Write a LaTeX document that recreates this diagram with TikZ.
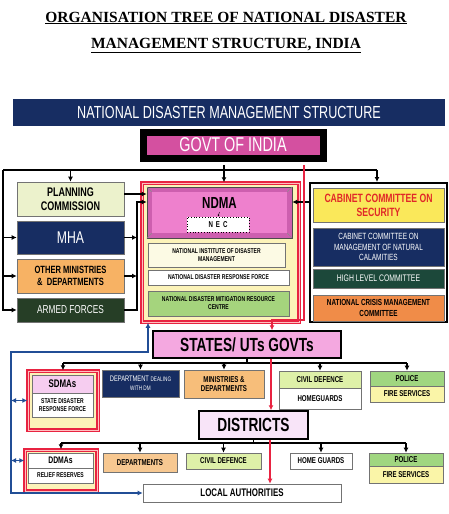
\documentclass[tikz,border=0pt]{standalone}
\usepackage{fontspec}
\setmainfont{Liberation Sans}[FakeStretch=0.72]
\newfontfamily\titlefont{Liberation Serif}
\usetikzlibrary{shapes,arrows.meta}
\newcommand\fsz[1]{\fontsize{#1pt}{\dimexpr #1pt*23/20\relax}\selectfont}

\definecolor{navyc}{RGB}{23,45,98}
\definecolor{govpink}{RGB}{212,80,160}
\definecolor{planc}{RGB}{236,242,204}
\definecolor{orangec}{RGB}{247,178,100}
\definecolor{armyg}{RGB}{38,62,38}
\definecolor{paley}{RGB}{252,243,185}
\definecolor{ndmadark}{RGB}{205,95,175}
\definecolor{ndmapink}{RGB}{238,128,205}
\definecolor{creamc}{RGB}{252,250,228}
\definecolor{mitig}{RGB}{165,212,125}
\definecolor{ccsyellow}{RGB}{250,232,90}
\definecolor{redtxt}{RGB}{225,40,40}
\definecolor{hlcgreen}{RGB}{28,72,58}
\definecolor{ncmcorange}{RGB}{240,140,72}
\definecolor{statepink}{RGB}{244,168,224}
\definecolor{sdmapink}{RGB}{246,205,240}
\definecolor{minorange}{RGB}{247,190,122}
\definecolor{cdgreen}{RGB}{222,240,168}
\definecolor{polgreen}{RGB}{160,214,128}
\definecolor{fireyel}{RGB}{250,245,168}
\definecolor{distpink}{RGB}{248,228,248}
\definecolor{deporange}{RGB}{247,200,145}
\definecolor{redl}{RGB}{232,35,65}
\definecolor{bluel}{RGB}{33,78,150}

\tikzset{%
    box/.style = {draw=black!55, rectangle, align=center, inner sep=1pt, line width=0.6pt},
    sz/.style 2 args = {minimum width=#1pt, minimum height=#2pt},
    grp/.style = {draw=redl, double=red!25, double distance=0.8pt, line width=1.5pt, fill=paley},
    link/.style = {line width=1.5pt},
    redlink/.style = {draw=redl, line width=1.3pt},
    bluelink/.style = {draw=bluel, line width=1.3pt},
}

\begin{document}
\begin{tikzpicture}[x=1pt, y=-1pt, >={Latex[length=5pt,width=5pt]}]
        \useasboundingbox (0,0) rectangle (449,514);
        \fill[white] (0,0) rectangle (449,514);

        % title
        \node[anchor=base, font=\titlefont\bfseries\fsz{15.5}] (title1) at (226,22)
            {\underline{ORGANISATION TREE OF NATIONAL DISASTER}};
        \node[anchor=base, font=\titlefont\bfseries\fsz{15.5}] (title2) at (226,48)
            {\underline{MANAGEMENT STRUCTURE, INDIA}};

        \node[fill=navyc, sz={432}{27}, text=white, font=\fsz{17.5}] (nds) at (229,112.5)
            {NATIONAL DISASTER MANAGEMENT STRUCTURE};
        \node[fill=govpink, draw=black, line width=7pt, sz={180}{26}, text=white, font=\fsz{20}] (govt) at (233,145)
            {GOVT OF INDIA};

        % left column
        \node[box, fill=planc, sz={107}{34}, font=\bfseries\fsz{12.5}] (plan) at (70.5,199)
            {PLANNING\\COMMISSION};
        \node[box, fill=navyc, sz={107}{33}, text=white, font=\fsz{17}] (mha) at (70.5,237.5)
            {MHA};
        \node[box, fill=orangec, sz={107}{34}, font=\bfseries\fsz{10.5}] (othmin) at (70.5,276)
            {OTHER MINISTRIES\\\&~~DEPARTMENTS};
        \node[box, fill=armyg, sz={107}{24}, text=white, font=\fsz{11.5}] (armed) at (70.5,310)
            {ARMED FORCES};

        % NDMA group
        \node[grp, sz={157}{139}] (ndmagrp) at (220.5,252.5) {};
        \node[box, draw=black!70, fill=ndmadark, sz={145}{51}] (ndma) at (219.5,212.5) {};
        \fill[ndmapink] ([shift={(5,5)}]ndma.north west) rectangle ([shift={(-5,-5)}]ndma.south east);
        \draw[black!45, thin] (ndma.north west) -- ++(5,5) (ndma.north east) -- ++(-5,5)
            (ndma.south west) -- ++(5,-5) (ndma.south east) -- ++(-5,-5);
        \node[font=\bfseries\fsz{16}] (ndmalbl) at (219.5,203) {NDMA};
        \node[draw, dotted, thick, fill=white, sz={62}{15}, inner sep=0pt, font=\bfseries\fsz{8.5}] (nec) at (218,224.5)
            {N\hspace{3pt}E\hspace{3pt}C};
        \draw[->, thin, >={Latex[length=2pt,width=2pt]}] (ndmalbl.south) -- (nec.north);
        \node[box, fill=creamc, sz={137}{24}, font=\bfseries\fsz{7}] (nidm) at (216.5,255)
            {NATIONAL INSTITUTE OF DISASTER\\MANAGEMENT};
        \node[box, fill=white, sz={141}{15}, font=\bfseries\fsz{7}] (ndrf) at (218.5,277.5)
            {NATIONAL DISASTER RESPONSE FORCE};
        \node[box, fill=mitig, sz={141}{25}, font=\bfseries\fsz{7}] (ndmrc) at (218.5,303.5)
            {NATIONAL DISASTER MITIGATION RESOURCE\\CENTRE};

        % cabinet group
        \node[draw=black, line width=2pt, fill=white, sz={137}{139}] (ccgrp) at (378.5,252.5) {};
        \node[box, fill=ccsyellow, sz={131}{34}, text=redtxt, font=\bfseries\fsz{12}] (ccs) at (378.5,205)
            {CABINET COMMITTEE ON\\SECURITY};
        \node[box, fill=navyc, sz={131}{38}, text=white, font=\fsz{9}] (ccmnc) at (378.5,247)
            {CABINET COMMITTEE ON\\MANAGEMENT OF NATURAL\\CALAMITIES};
        \node[box, fill=hlcgreen, sz={131}{19}, text=white, font=\fsz{9.5}] (hlc) at (378.5,278.5)
            {HIGH LEVEL COMMITTEE};
        \node[box, fill=ncmcorange, sz={131}{26}, font=\bfseries\fsz{8.8}] (ncmc) at (378.5,308)
            {NATIONAL CRISIS MANAGEMENT\\COMMITTEE};

        % states level
        \node[draw=black, line width=1.5pt, fill=statepink, sz={188}{27}, font=\bfseries\fsz{19}] (states) at (247,344.5)
            {STATES/ UTs GOVTs};
        \node[grp, sz={70}{59}] (sdmagrp) at (63,400.5) {};
        \node[box, fill=sdmapink, sz={61}{18}, font=\bfseries\fsz{11}] (sdmas) at (62.5,384) {SDMAs};
        \node[box, fill=white, sz={61}{24}, font=\bfseries\fsz{7}] (sdrf) at (62.5,405)
            {STATE DISASTER\\RESPONSE FORCE};
        \node[box, fill=navyc, sz={77}{27}, text=white, font=\fsz{8}] (deptdm) at (140.5,383.5)
            {DEPARTMENT {\fsz{6.5}DEALING}\\{\fsz{6.5}WITH DM}};
        \node[box, fill=minorange, sz={80}{28}, font=\bfseries\fsz{8.5}] (minsdep) at (224,384)
            {MINISTRIES \&\\DEPARTMENTS};
        \node[box, fill=cdgreen, sz={82}{17}, font=\bfseries\fsz{8.5}] (sciv) at (320,379.5) {CIVIL DEFENCE};
        \node[box, fill=white, sz={82}{21}, font=\bfseries\fsz{8.5}] (shome) at (320,398.5) {HOMEGUARDS};
        \node[box, fill=polgreen, sz={74}{15}, font=\bfseries\fsz{8.5}] (spol) at (407,378.5) {POLICE};
        \node[box, fill=fireyel, sz={74}{16}, font=\bfseries\fsz{8.5}] (sfire) at (407,394) {FIRE SERVICES};

        % district level
        \node[draw=black, line width=1.5pt, fill=distpink, sz={109}{28}, font=\bfseries\fsz{19}] (dist) at (253.5,425)
            {DISTRICTS};
        \node[grp, sz={72}{41}] (ddmagrp) at (61,470.5) {};
        \node[box, fill=white, sz={65}{15}, font=\bfseries\fsz{9.5}] (ddmas) at (60.5,460.5) {DDMAs};
        \node[box, fill=white, sz={65}{15}, font=\bfseries\fsz{7}] (relief) at (60.5,475.5) {RELIEF RESERVES};
        \node[box, fill=deporange, sz={74}{19}, font=\bfseries\fsz{8.5}] (ddept) at (140,462.5) {DEPARTMENTS};
        \node[box, fill=cdgreen, sz={75}{16}, font=\bfseries\fsz{8.5}] (dciv) at (223.5,461) {CIVIL DEFENCE};
        \node[box, fill=white, sz={62}{16}, font=\bfseries\fsz{8.5}] (dhome) at (321,461) {HOME GUARDS};
        \node[box, fill=polgreen, sz={74}{13}, font=\bfseries\fsz{8.5}] (dpol) at (406,459.5) {POLICE};
        \node[box, fill=fireyel, sz={74}{17}, font=\bfseries\fsz{8.5}] (dfire) at (406,474.5) {FIRE SERVICES};
        \node[box, fill=white, sz={198}{18}, font=\bfseries\fsz{11}] (local) at (242,493) {LOCAL AUTHORITIES};

        % black links
        \coordinate (busl) at (3,170);
        \coordinate (busr) at (377,170);
        \coordinate (ndbus) at (137,202);
        \coordinate (sbus) at (0,363);
        \coordinate (dbus) at (0,443);
        \draw[link] (busl) -- (busr);
        \draw[link,->] ([xshift=-9,yshift=-3.5]govt.south) -- ([xshift=3.5]ndmagrp.north);
        \draw[link,->] (plan.north |- busl) -- (plan.north);
        \draw[link,->] (busr) -- (busr |- ccgrp.north);
        \draw[link,->] (busl) |- (armed.west);
        \draw[link,->] (busl |- mha.west) -- (mha.west);
        \draw[link,->] (busl |- othmin.west) -- (othmin.west);
        \draw[link,->] ([yshift=5]plan.east) -- ([yshift=5]plan.east -| ndma.west);
        \draw[link,->] (armed.east) -| (ndbus) -- (ndbus -| ndma.west);
        \draw[link,->] (mha.east) -- (mha.east -| ndbus);
        \draw[link,->] (othmin.east) -- (othmin.east -| ndbus);
        \draw[link,->] (ccgrp.west |- ndbus) -- (ndma.east |- ndbus);

        \draw[link] (states.south) -- (states.south |- sbus);
        \draw[link] (sdmagrp.north |- sbus) -- (spol.north |- sbus);
        \foreach \n in {sdmagrp,deptdm,minsdep,sciv,spol}
            \draw[link,->] (\n.north |- sbus) -- (\n.north);
        \draw[link] (dist.south) -- (dist.south |- dbus);
        \draw[link] (ddmagrp.north |- dbus) -- (dpol.north |- dbus);
        \foreach \n in {ddmagrp,ddept,dciv,dhome,dpol}
            \draw[link,->] (\n.north |- dbus) -- (\n.north);

        % red links
        \coordinate (redturn) at (304,320);
        \draw[redlink,->] ([xshift=71,yshift=-3.5]govt.south) -- (redturn) -| ([xshift=25]states.north);
        \draw[redlink,->] ([xshift=24]states.south) -- ([xshift=24]states.south |- dist.north);
        \draw[redlink,->] ([xshift=16.5]dist.south) -- ([xshift=16.5]dist.south |- local.north);

        % blue links
        \coordinate (bl) at (11,352);
        \draw[bluelink,<->] ([xshift=-72.5]ndmagrp.south) |- (bl) |- (local.west);
        \draw[bluelink,<->] (bl |- sdmagrp.west) -- (sdmagrp.west);
        \draw[bluelink,<->] (bl |- ddmas.west) -- (ddmas.west -| ddmagrp.west);
    \end{tikzpicture}
\end{document}
